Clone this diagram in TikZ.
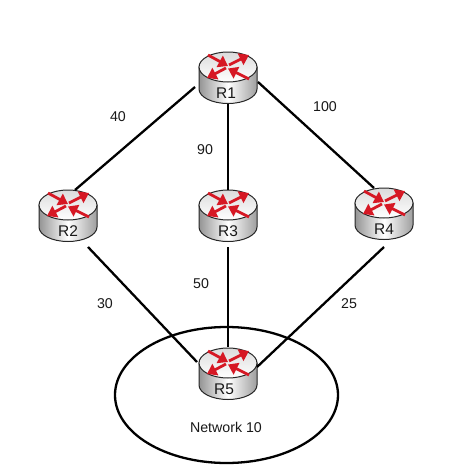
\documentclass[tikz,border=0pt]{standalone}
\usepackage{fontspec}
\setmainfont{Liberation Sans}
\usetikzlibrary{arrows.meta,calc}
\definecolor{rred}{RGB}{214,24,36}
\definecolor{rtext}{RGB}{25,25,25}
\tikzset{
  link/.style={draw=black,line width=2.3pt},
  lab/.style={font=\fontsize{14.2}{16}\selectfont,text=rtext,inner sep=0pt},
  rlab/.style={font=\fontsize{15.5}{17}\selectfont,text=rtext,inner sep=0pt},
  hub/.style={inner sep=0pt,minimum size=2pt},
  rarrow/.style={draw=rred,line width=2.8pt,-{Triangle[length=9.5pt,width=12.5pt]}},
}
\newcommand{\routerat}[5]{%
  \begin{scope}[shift={(#2,#3)}]
    \path[left color=black!42,right color=black!38,middle color=white,draw=black!85,line width=1pt]
      (-29,0) -- (-29,22) arc[start angle=180,end angle=0,x radius=29,y radius=14.5]
      -- (29,0) -- cycle;
    \path[top color=black!14,bottom color=white,draw=black!85,line width=1pt]
      (0,0) ellipse[x radius=29,y radius=15];
    \draw[rarrow] (-20,-12) -- (0,-1);
    \draw[rarrow] (-2,1) -- (-21,11);
    \draw[rarrow] (1,-2) -- (21,-12);
    \draw[rarrow] (21,12) -- (0,1.5);
  \end{scope}
  \node[hub] (#1) at (#2,#3) {};
  \node[rlab] (#1l) at (#2+#5,#3+26) {#4};
}
\begin{document}
\begin{tikzpicture}[x=1pt,y=-1pt]
\useasboundingbox[fill=white] (0,0) rectangle (474,474);
\draw[line width=2.3pt] (226.5,395) ellipse[x radius=111.5,y radius=68];
\routerat{r1}{228}{67}{R1}{-2}
\routerat{r2}{68}{205}{R2}{0}
\routerat{r3}{228}{205}{R3}{0}
\routerat{r4}{384}{203}{R4}{0}
\routerat{r5}{228}{363}{R5}{-4}
\draw[link] ($(r1)+(-33,20)$) -- ($(r2)+(7,-15)$);
\draw[link] ($(r1)+(0,37)$) -- ($(r3)+(0,-15)$);
\draw[link] ($(r1)+(30,15)$) -- ($(r4)+(-10,-15)$);
\draw[link] ($(r2)+(20,42)$) -- ($(r5)+(-31,-1)$);
\draw[link] ($(r3)+(0,42)$) -- ($(r5)+(0,-16)$);
\draw[link] ($(r4)+(0,44)$) -- ($(r5)+(29,4)$);
\node[lab] (l40) at (118,117) {40};
\node[lab] (l90) at (205,150) {90};
\node[lab] (l100) at (325,107) {100};
\node[lab] (l30) at (105,304) {30};
\node[lab] (l50) at (201,284) {50};
\node[lab] (l25) at (349,304) {25};
\node[lab] (net) at (226,427) {Network 10};
\end{tikzpicture}
\end{document}
